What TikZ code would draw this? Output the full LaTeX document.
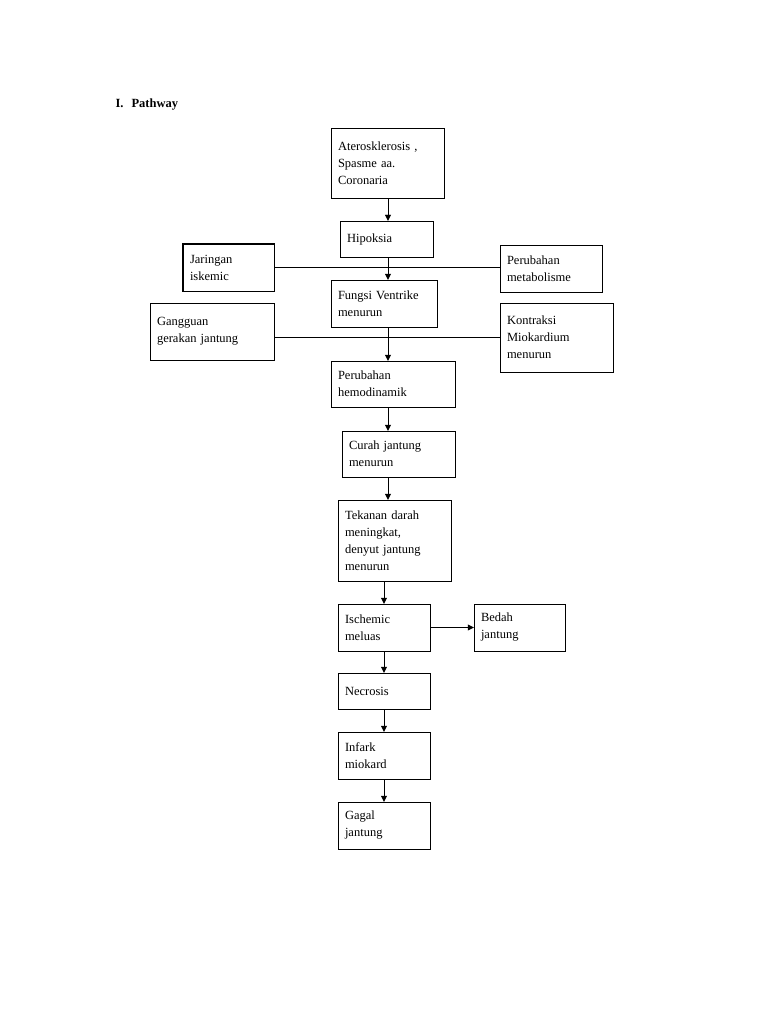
\documentclass[tikz,border=0pt]{standalone}
\usepackage{fontspec}
\setmainfont{Liberation Serif}
\usetikzlibrary{arrows.meta}
\tikzset{
  box/.style={draw, thin, align=left, inner sep=7pt, font=\fontsize{12.5}{17}\selectfont},
  arr/.style={-{Triangle[length=6pt,width=6pt]}}
}
\newcommand{\bx}[6]{\node[box, minimum width=#4pt, minimum height=#5pt, text width=#4pt-14pt] (#1) at (#2,#3) {#6};}
\begin{document}
\begin{tikzpicture}[x=1pt,y=-1pt]
\useasboundingbox[fill=white] (0,0) rectangle (768,1024);
\node[anchor=base west, font=\fontsize{12.5}{15}\selectfont\bfseries] (title) at (112,108) {I.\hspace{8pt}Pathway};

\bx{ater}{387.5}{163}{113}{70}{Aterosklerosis ,\\Spasme aa.\\Coronaria}
\bx{hip}{386.5}{239}{93}{36}{Hipoksia}
\bx{jar}{228.5}{267.5}{91}{47}{Jaringan\\iskemic}
\draw[line width=1.2pt] (jar.north west) rectangle (jar.south east);
\bx{met}{551}{268.5}{102}{47}{Perubahan\\metabolisme}
\bx{fung}{384}{303.5}{106}{47}{Fungsi Ventrike\\menurun}
\bx{gang}{212}{331.5}{124}{57}{Gangguan\\gerakan jantung}
\bx{kon}{556.5}{337.5}{113}{69}{Kontraksi\\Miokardium\\menurun}
\bx{hem}{393}{384}{124}{46}{Perubahan\\hemodinamik}
\bx{cur}{398.5}{454}{113}{46}{Curah jantung\\menurun}
\bx{tek}{394.5}{540.5}{113}{81}{Tekanan darah\\meningkat,\\denyut jantung\\menurun}
\bx{isc}{384}{627.5}{92}{47}{Ischemic\\meluas}
\bx{bed}{519.5}{627.5}{91}{47}{Bedah\\jantung}
\bx{nec}{384}{691}{92}{36}{Necrosis}
\bx{inf}{384}{755.5}{92}{47}{Infark\\miokard}
\bx{gag}{384}{825.5}{92}{47}{Gagal\\jantung}

% main flow
\draw[arr] (388,0 |- ater.south) -- (388,0 |- hip.north);
\draw[arr] (388,0 |- hip.south) -- (388,0 |- fung.north);
\draw[arr] (388,0 |- fung.south) -- (388,0 |- hem.north);
\draw[arr] (388,0 |- hem.south) -- (388,0 |- cur.north);
\draw[arr] (388,0 |- cur.south) -- (388,0 |- tek.north);
\draw[arr] (tek.south -| isc.north) -- (isc.north);
\draw[arr] (isc.east) -- (bed.west);
\draw[arr] (isc.south) -- (nec.north);
\draw[arr] (nec.south) -- (inf.north);
\draw[arr] (inf.south) -- (gag.north);
% side links
\draw (jar.east) -- (jar.east -| met.west);
\draw (gang.east |- kon.west) -- (kon.west);
\end{tikzpicture}
\end{document}
